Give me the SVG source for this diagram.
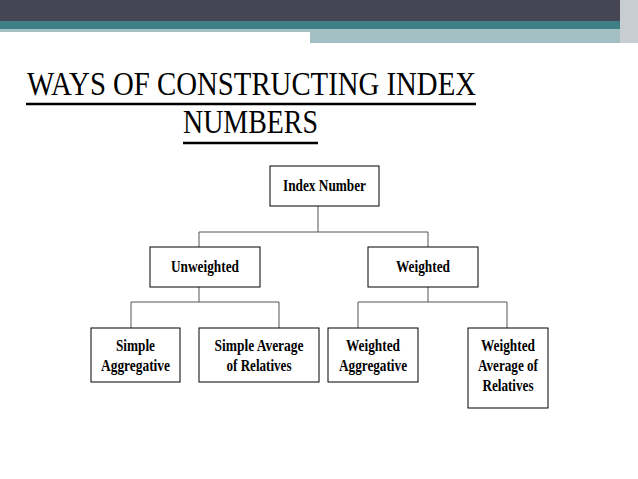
<svg xmlns="http://www.w3.org/2000/svg" width="638" height="479" viewBox="0 0 638 479">
<style>
.b{fill:#fff;stroke:#000;stroke-width:1}
.t{font-family:"Liberation Serif",serif;font-weight:bold;font-size:16px;text-anchor:middle}
.c{stroke:#555;stroke-width:1;fill:none}
.h{font-family:"Liberation Serif",serif;font-size:34px}
</style>
<rect width="638" height="479" fill="#fff"/>
<rect x="0" y="0" width="638" height="21" fill="#454556"/>
<rect x="0" y="21" width="638" height="8" fill="#3f7f86"/>
<rect x="0" y="29" width="310" height="3" fill="#a3bfc3"/>
<rect x="310" y="29" width="318" height="14" fill="#a3bfc3"/>
<rect x="620" y="0" width="18" height="43" fill="#c8cdd2"/>
<text class="h" x="27" y="95" textLength="449" lengthAdjust="spacingAndGlyphs">WAYS OF CONSTRUCTING INDEX</text>
<text class="h" x="183" y="133" textLength="135" lengthAdjust="spacingAndGlyphs">NUMBERS</text>
<line x1="26" y1="104" x2="476" y2="104" stroke="#000" stroke-width="2.5"/>
<line x1="183" y1="143" x2="318" y2="143" stroke="#000" stroke-width="2.5"/>
<g id="connectors">
<path class="c" d="M318 206V232M199 247V232H428V247M199 287V302M131 328V302H279V328M428 287V302M358 328V302H507V328"/>
</g>
<g id="n1"><rect class="b" x="270" y="166" width="109" height="40"/><text class="t" x="324.5" y="191" textLength="83" lengthAdjust="spacingAndGlyphs">Index Number</text></g>
<g id="n2"><rect class="b" x="150" y="247" width="110" height="40"/><text class="t" x="205" y="272" textLength="68" lengthAdjust="spacingAndGlyphs">Unweighted</text></g>
<g id="n3"><rect class="b" x="368" y="247" width="110" height="40"/><text class="t" x="423" y="272" textLength="54" lengthAdjust="spacingAndGlyphs">Weighted</text></g>
<g id="n4"><rect class="b" x="91" y="328" width="89" height="54"/><text class="t" x="135.5" y="351" textLength="39" lengthAdjust="spacingAndGlyphs">Simple</text><text class="t" x="135.5" y="371" textLength="69" lengthAdjust="spacingAndGlyphs">Aggregative</text></g>
<g id="n5"><rect class="b" x="199" y="328" width="120" height="54"/><text class="t" x="259" y="351" textLength="89" lengthAdjust="spacingAndGlyphs">Simple Average</text><text class="t" x="259" y="371" textLength="65" lengthAdjust="spacingAndGlyphs">of Relatives</text></g>
<g id="n6"><rect class="b" x="328" y="328" width="90" height="54"/><text class="t" x="373" y="351" textLength="54" lengthAdjust="spacingAndGlyphs">Weighted</text><text class="t" x="373" y="371" textLength="68" lengthAdjust="spacingAndGlyphs">Aggregative</text></g>
<g id="n7"><rect class="b" x="468" y="328" width="80" height="80"/><text class="t" x="508" y="351" textLength="54" lengthAdjust="spacingAndGlyphs">Weighted</text><text class="t" x="508" y="371" textLength="60" lengthAdjust="spacingAndGlyphs">Average of</text><text class="t" x="508" y="391" textLength="51" lengthAdjust="spacingAndGlyphs">Relatives</text></g>
</svg>
